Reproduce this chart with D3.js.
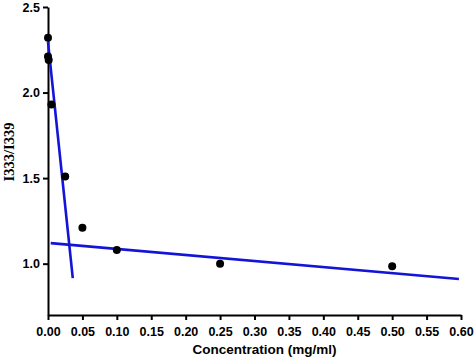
<!DOCTYPE html>
<html><head><meta charset="utf-8">
<script src="https://cdn.jsdelivr.net/npm/d3@7"></script>
<style>body{margin:0;background:#fff}svg{display:block}</style>
</head><body>
<script>
const pointsX = [0, 0, 0.001, 0.005, 0.025, 0.05, 0.1, 0.25, 0.5];
const pointsY = [2.32, 2.21, 2.19, 1.93, 1.51, 1.21, 1.08, 1.0, 0.985];
const fit1X = [0, 0.036];
const fit1Y = [2.295, 0.915];
const fit2X = [0.004, 0.597];
const fit2Y = [1.12, 0.91];
const xTicks = [0, 0.05, 0.1, 0.15, 0.2, 0.25, 0.3, 0.35, 0.4, 0.45, 0.5, 0.55, 0.6];
const yTicks = [1.0, 1.5, 2.0, 2.5];

const W = 474, H = 361;
const m = {l: 48, r: 13, t: 7, b: 46};
const svg = d3.select("body").append("svg").attr("width", W).attr("height", H);
const x = d3.scaleLinear().domain([0, 0.6]).range([m.l, W - m.r]);
const y = d3.scaleLinear().domain([0.7, 2.5]).range([H - m.b, m.t]);

const xa = svg.append("g").attr("transform", `translate(0,${H - m.b})`)
  .call(d3.axisBottom(x).tickValues(xTicks).tickFormat(d3.format(".2f")).tickSize(5).tickSizeOuter(0));
const ya = svg.append("g").attr("transform", `translate(${m.l},0)`)
  .call(d3.axisLeft(y).tickValues(yTicks).tickFormat(d3.format(".1f")).tickSize(5).tickSizeOuter(0));
[xa, ya].forEach(a => {
  a.selectAll("path,line").attr("stroke", "#000").attr("stroke-width", 2);
  a.selectAll("text").attr("font-family", "Liberation Sans, Arial, sans-serif")
    .attr("font-weight", "bold").attr("font-size", 12.5).attr("fill", "#000");
});
xa.selectAll("text").attr("dy", "1.05em");

const line = d3.line().x(d => x(d[0])).y(d => y(d[1]));
svg.append("path").datum(fit1X.map((v, i) => [v, fit1Y[i]]))
  .attr("d", line).attr("stroke", "#1414d8").attr("stroke-width", 2.6).attr("fill", "none");
svg.append("path").datum(fit2X.map((v, i) => [v, fit2Y[i]]))
  .attr("d", line).attr("stroke", "#1414d8").attr("stroke-width", 2.6).attr("fill", "none");

svg.selectAll("circle.p").data(pointsX.map((v, i) => [v, pointsY[i]])).enter()
  .append("circle").attr("class", "p")
  .attr("cx", d => x(d[0])).attr("cy", d => y(d[1])).attr("r", 4).attr("fill", "#000");

svg.append("text").attr("x", (m.l + W - m.r) / 2 + 10).attr("y", 354).attr("text-anchor", "middle")
  .attr("font-family", "Liberation Sans, Arial, sans-serif").attr("font-weight", "bold")
  .attr("font-size", 13.5).text("Concentration (mg/ml)");
svg.append("text").attr("transform", "translate(14,152) rotate(-90)").attr("text-anchor", "middle")
  .attr("font-family", "Liberation Serif, Times New Roman, serif").attr("font-weight", "bold")
  .attr("font-size", 14.5).text("I333/I339");
</script>
</body></html>
